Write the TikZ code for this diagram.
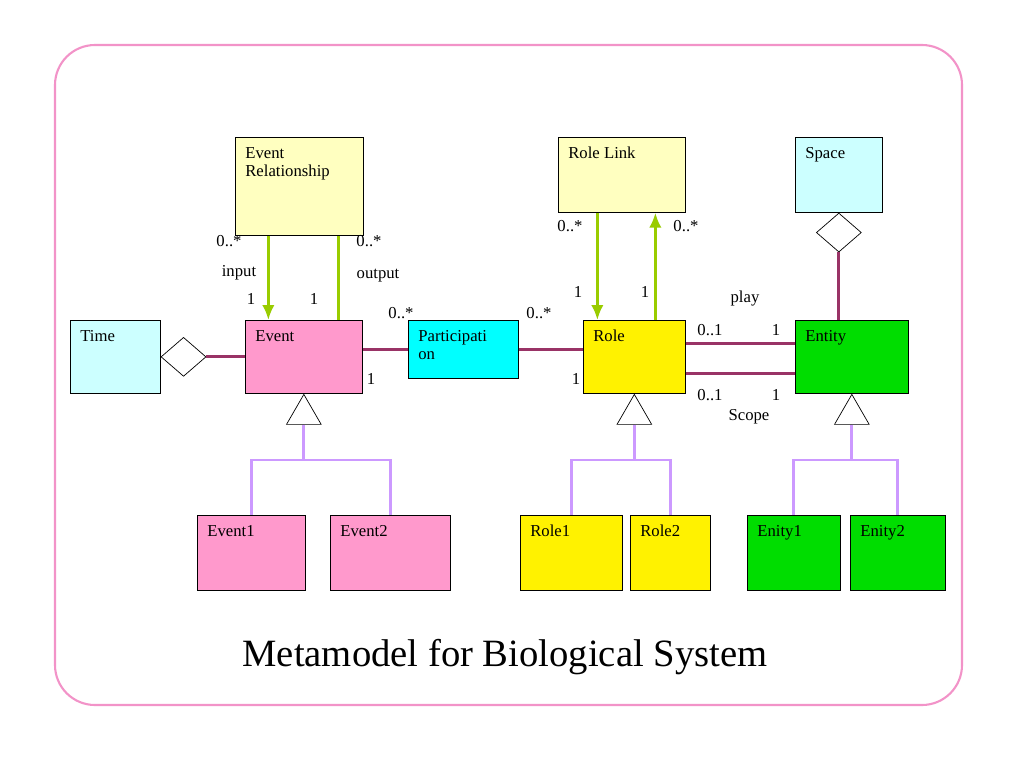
\documentclass[tikz,border=0pt]{standalone}
\usepackage{fontspec}
\setmainfont{Liberation Serif}
\usepackage{tikz}
\usetikzlibrary{shapes.geometric,arrows.meta}

\definecolor{pinkline}{HTML}{F293C8}
\definecolor{maroon}{HTML}{993366}
\definecolor{arrgreen}{HTML}{99CC00}
\definecolor{lav}{HTML}{CC99FF}
\definecolor{lyellow}{HTML}{FFFFC0}
\definecolor{lcyan}{HTML}{CCFFFF}
\definecolor{pcyan}{HTML}{00FFFF}
\definecolor{epink}{HTML}{FF99CC}
\definecolor{egreen}{HTML}{00DD00}

\tikzset{
  box/.style={draw=black,anchor=north west,inner sep=0pt,
    label={[anchor=north west,align=left,inner sep=0pt,xshift=0.2cm,yshift=-0.2cm,font=\fontsize{9.5}{10.5}\selectfont]north west:#1}},
  assoc/.style={draw=maroon,line width=1.6pt},
  arr/.style={draw=arrgreen,line width=1.6pt,-{Latex[length=0.3cm,width=0.25cm]}},
  inh/.style={draw=lav,line width=1.6pt},
  dia/.style={diamond,draw=black,fill=white,inner sep=0pt,minimum width=0.9cm,minimum height=0.78cm},
  tri/.style={regular polygon,regular polygon sides=3,draw=black,fill=white,inner sep=0pt,minimum size=0.8cm},
  lbl/.style={font=\fontsize{9.5}{10.5}\selectfont,inner sep=0pt}
}

\begin{document}
\begin{tikzpicture}[x=0.02cm,y=-0.02cm]
\useasboundingbox (0,0) rectangle (1024,768);
\draw[pinkline,line width=1.2pt,rounded corners=0.8cm] (55,45) rectangle (962,705);

% classes
\node[box={Event\\Relationship},fill=lyellow,minimum width=2.56cm,minimum height=1.96cm] (er) at (235,137) {};
\node[box=Role Link,fill=lyellow,minimum width=2.54cm,minimum height=1.5cm] (rl) at (558,137) {};
\node[box=Space,fill=lcyan,minimum width=1.74cm,minimum height=1.5cm] (space) at (795,137) {};
\node[box=Time,fill=lcyan,minimum width=1.8cm,minimum height=1.46cm] (time) at (70,320) {};
\node[box=Event,fill=epink,minimum width=2.34cm,minimum height=1.46cm] (event) at (245,320) {};
\node[box={Participati\\on},fill=pcyan,minimum width=2.2cm,minimum height=1.16cm] (part) at (408,320) {};
\node[box=Role,fill=yellow,minimum width=2.04cm,minimum height=1.46cm] (role) at (583,320) {};
\node[box=Entity,fill=egreen,minimum width=2.26cm,minimum height=1.46cm] (entity) at (795,320) {};
\node[box=Event1,fill=epink,minimum width=2.16cm,minimum height=1.5cm] (ev1) at (197,515) {};
\node[box=Event2,fill=epink,minimum width=2.4cm,minimum height=1.5cm] (ev2) at (330,515) {};
\node[box=Role1,fill=yellow,minimum width=2.04cm,minimum height=1.5cm] (ro1) at (520,515) {};
\node[box=Role2,fill=yellow,minimum width=1.6cm,minimum height=1.5cm] (ro2) at (630,515) {};
\node[box=Enity1,fill=egreen,minimum width=1.86cm,minimum height=1.5cm] (en1) at (747,515) {};
\node[box=Enity2,fill=egreen,minimum width=1.9cm,minimum height=1.5cm] (en2) at (850,515) {};

% associations
\node[dia,anchor=west] (tdia) at (time.east) {};
\draw[assoc] (tdia.east) -- (tdia.east -| event.west);
\draw[assoc] (part.west -| event.east) -- (part.west);
\draw[assoc] (part.east) -- (part.east -| role.west);
\draw[assoc] ([yshift=0.27cm]role.east) -- ([yshift=0.27cm]entity.west);
\draw[assoc] ([yshift=-0.33cm]role.east) -- ([yshift=-0.33cm]entity.west);
\node[dia,anchor=north] (sdia) at (space.south) {};
\draw[assoc] (sdia.south) -- (sdia.south |- entity.north);

% green links
\coordinate (erin) at ([xshift=-0.62cm]er.south);
\coordinate (erout) at ([xshift=0.78cm]er.south);
\coordinate (rlin) at ([xshift=-0.49cm]rl.south);
\coordinate (rlout) at ([xshift=0.67cm]rl.south);
\draw[arr] (erin) -- (erin |- event.north);
\draw[arr,-] (erout |- event.north) -- (erout);
\draw[arr] (rlin) -- (rlin |- role.north);
\draw[arr] (rlout |- role.north) -- (rlout);

% inheritance
\node[tri,anchor=corner 1] (evtri) at (event.south) {};
\node[tri,anchor=corner 1] (rotri) at (role.south) {};
\node[tri,anchor=corner 1] (entri) at (entity.south) {};
\draw[inh] (ev1.north) -- ++(0,-55) -| (ev2.north);
\draw[inh] (evtri.south) -- ++(0,35);
\draw[inh] (ro1.north) -- ++(0,-55) -| (ro2.north);
\draw[inh] (rotri.south) -- ++(0,35);
\draw[inh] (en1.north) -- ++(0,-55) -| (en2.north);
\draw[inh] (entri.south) -- ++(0,35);

% multiplicities
\node[lbl] (m1) at (229,241) {0..*};
\node[lbl] (m2) at (239,273) {input};
\node[lbl] (m3) at (251,299) {1};
\node[lbl] (m4) at (314,299) {1};
\node[lbl] (m5) at (369,241) {0..*};
\node[lbl] (m6) at (378,276) {output};
\node[lbl] (m7) at (401,313) {0..*};
\node[lbl] (m8) at (371,379) {1};
\node[lbl] (m9) at (539,313) {0..*};
\node[lbl] (m10) at (576,379) {1};
\node[lbl] (m11) at (570,226) {0..*};
\node[lbl] (m12) at (686,226) {0..*};
\node[lbl] (m13) at (578,292) {1};
\node[lbl] (m14) at (645,292) {1};
\node[lbl] (m15) at (745,299) {play};
\node[lbl] (m16) at (710,330) {0..1};
\node[lbl] (m17) at (776,330) {1};
\node[lbl] (m18) at (710,395) {0..1};
\node[lbl] (m19) at (776,395) {1};
\node[lbl] (m20) at (749,417) {Scope};

\node[font=\fontsize{22}{26}\selectfont] (title) at (505,657) {Metamodel for Biological System};
\end{tikzpicture}
\end{document}
